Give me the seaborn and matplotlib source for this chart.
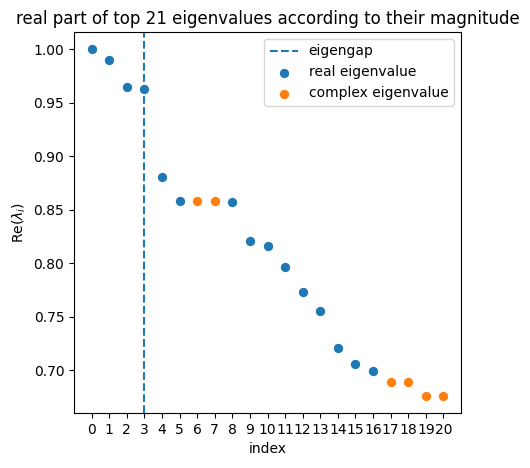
import matplotlib
matplotlib.use("Agg")
import matplotlib.pyplot as plt
import seaborn as sns
import numpy as np

real_idx = [0, 1, 2, 3, 4, 5, 8, 9, 10, 11, 12, 13, 14, 15, 16]
real_val = [1.000, 0.990, 0.965, 0.963, 0.881, 0.858, 0.857, 0.821, 0.816, 0.796, 0.773, 0.755, 0.721, 0.706, 0.699]
cplx_idx = [6, 7, 17, 18, 19, 20]
cplx_val = [0.858, 0.858, 0.689, 0.689, 0.676, 0.676]
eigengap = 3

fig = plt.figure(figsize=(5.3, 4.68), dpi=100)
ax = fig.add_axes([74/530, 1-413/468, 387/530, 381/468])
ax.axvline(eigengap, linestyle="--", color="C0", label="eigengap")
sns.scatterplot(x=real_idx, y=real_val, ax=ax, color="C0", s=45, linewidth=0, label="real eigenvalue")
sns.scatterplot(x=cplx_idx, y=cplx_val, ax=ax, color="C1", s=45, linewidth=0, label="complex eigenvalue")
ax.set_xticks(range(21))
ax.set_xlabel("index")
ax.set_ylabel(r"Re($\lambda_i$)")
ax.set_title("real part of top 21 eigenvalues according to their magnitude")
ax.legend(loc="upper right")
fig.savefig("out.png", dpi=100)
